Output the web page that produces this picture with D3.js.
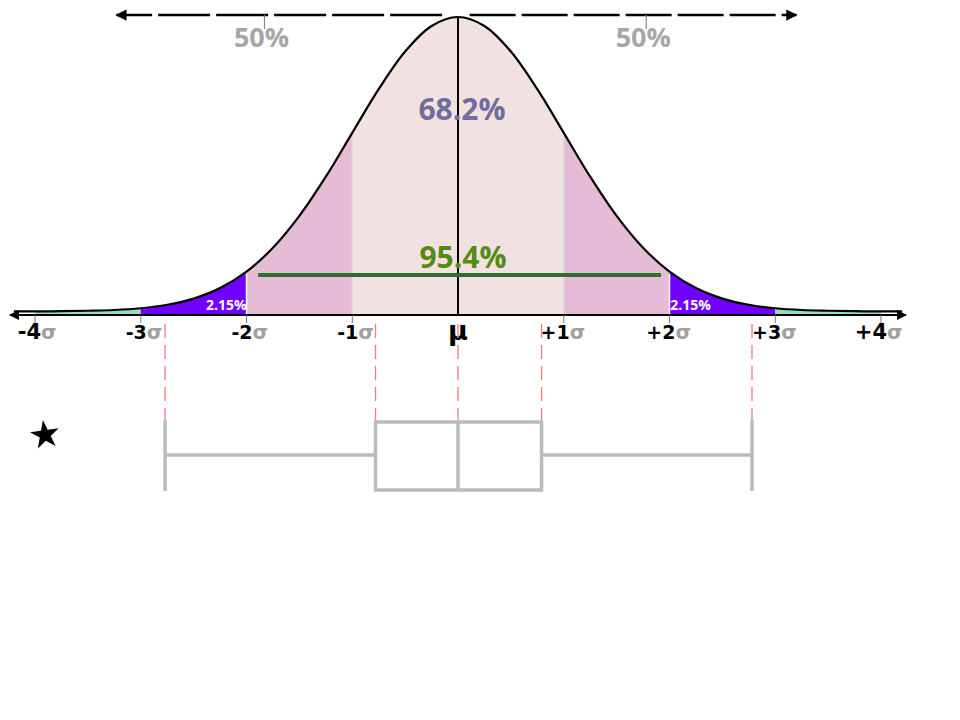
<!DOCTYPE html>
<html>
<head>
<meta charset="utf-8">
<script src="https://cdn.jsdelivr.net/npm/d3@7"></script>
<style>
  body { margin: 0; background: #fff; }
  text { font-family: "Open Sans", "Noto Sans", sans-serif; font-weight: bold; }
  .tick-label { font-family: "DejaVu Sans", sans-serif; }
</style>
</head>
<body>
<div id="chart"></div>
<script>
// density of the bell curve (z in sigma units)
var zValues = [-4.2, -4, -3.75, -3.5, -3.25, -3, -2.75, -2.5, -2.25, -2, -1.75, -1.5, -1.25, -1, -0.75, -0.5, -0.25,
               0, 0.25, 0.5, 0.75, 1, 1.25, 1.5, 1.75, 2, 2.25, 2.5, 2.75, 3, 3.25, 3.5, 3.75, 4, 4.2];
var density = [0.0001, 0.0001, 0.0004, 0.001, 0.002, 0.0044, 0.0091, 0.0175, 0.0317, 0.054, 0.0863, 0.1295, 0.1826, 0.242, 0.3011, 0.3521, 0.3867,
               0.3989, 0.3867, 0.3521, 0.3011, 0.242, 0.1826, 0.1295, 0.0863, 0.054, 0.0317, 0.0175, 0.0091, 0.0044, 0.002, 0.001, 0.0004, 0.0001, 0.0001];

// shaded bands under the curve
var bandFrom  = [-4, -3, -2, -1, 1, 2, 3];
var bandTo    = [-3, -2, -1,  1, 2, 3, 4];
var bandColor = ["#8fe0c4", "#7000ff", "#e6bbd5", "#f2e1e1", "#e6bbd5", "#7000ff", "#8fe0c4"];

// axis ticks
var tickZ      = [-4, -3, -2, -1, 0, 1, 2, 3, 4];
var tickLabels = ["-4", "-3", "-2", "-1", "μ", "+1", "+2", "+3", "+4"];

// percentage labels
var halfLabel = "50%";
var halfTickZ = [-1.83, 1.78];
var innerLabel = "68.2%";
var twoSigmaLabel = "95.4%";
var tailLabel = "2.15%";

// box plot (sigma units)
var boxMin = -2.77, boxQ1 = -0.78, boxMedian = 0, boxQ3 = 0.79, boxMax = 2.78;

var width = 960, height = 720;
var axisY = 315;

var svg = d3.select("#chart").append("svg")
    .attr("width", width)
    .attr("height", height);

var x = d3.scaleLinear().domain([-4, 4]).range([35, 881]);
var y = d3.scaleLinear().domain([0, 0.3989]).range([311.5, 17]);

var points = zValues.map(function(z, i) { return [z, density[i]]; });

var area = d3.area()
    .x(function(d) { return x(d[0]); })
    .y0(axisY)
    .y1(function(d) { return y(d[1]); })
    .curve(d3.curveCatmullRom);

var line = d3.line()
    .x(function(d) { return x(d[0]); })
    .y(function(d) { return y(d[1]); })
    .curve(d3.curveCatmullRom);

var defs = svg.append("defs");

defs.append("marker")
    .attr("id", "arrow")
    .attr("viewBox", "0 0 10 10")
    .attr("refX", 9).attr("refY", 5)
    .attr("markerWidth", 4.5).attr("markerHeight", 4.5)
    .attr("markerUnits", "strokeWidth")
    .attr("orient", "auto-start-reverse")
  .append("path")
    .attr("d", "M0,0 L10,5 L0,10 z")
    .attr("fill", "#000");

// bands, each one the whole area clipped to its sigma range
bandFrom.forEach(function(z0, i) {
  defs.append("clipPath")
      .attr("id", "band" + i)
    .append("rect")
      .attr("x", x(z0))
      .attr("y", 0)
      .attr("width", x(bandTo[i]) - x(z0))
      .attr("height", 320);

  svg.append("path")
      .datum(points)
      .attr("clip-path", "url(#band" + i + ")")
      .attr("d", area)
      .attr("fill", bandColor[i]);
});

// light dividers between bands
svg.append("g").selectAll("line")
  .data([-2, -1, 1, 2])
  .enter().append("line")
    .attr("x1", function(d) { return x(d); })
    .attr("x2", function(d) { return x(d); })
    .attr("y1", axisY)
    .attr("y2", function(d) { return y(density[zValues.indexOf(d)]) + 2; })
    .attr("stroke", function(d) { return Math.abs(d) == 1 ? "#dcdcdc" : "#fff"; })
    .attr("stroke-width", 1.5);

// bell curve
svg.append("path")
    .datum(points)
    .attr("d", line)
    .attr("fill", "none")
    .attr("stroke", "#000")
    .attr("stroke-width", 2.2);

// mean line
svg.append("line")
    .attr("x1", x(0)).attr("x2", x(0))
    .attr("y1", y(0.3989)).attr("y2", axisY)
    .attr("stroke", "#000")
    .attr("stroke-width", 2);

// x axis with arrows both ways
svg.append("line")
    .attr("x1", 10).attr("x2", 906)
    .attr("y1", axisY).attr("y2", axisY)
    .attr("stroke", "#000")
    .attr("stroke-width", 2.2)
    .attr("marker-start", "url(#arrow)")
    .attr("marker-end", "url(#arrow)");

svg.append("g").selectAll("line")
  .data(tickZ)
  .enter().append("line")
    .attr("x1", function(d) { return x(d); })
    .attr("x2", function(d) { return x(d); })
    .attr("y1", axisY).attr("y2", 323)
    .attr("stroke", function(d) { return d == 0 ? "none" : "#777"; })
    .attr("stroke-width", 1);

var labels = svg.append("g").selectAll("g")
  .data(tickZ)
  .enter().append("g");

labels.append("text")
    .attr("class", "tick-label")
    .attr("x", function(d) { return d == 0 ? x(d) : x(d) + 6; })
    .attr("y", function(d) { return d == 0 ? 340 : 339; })
    .attr("text-anchor", function(d) { return d == 0 ? "middle" : "end"; })
    .attr("font-size", function(d) { return d == 0 ? 27 : Math.abs(d) == 4 ? 21 : 19; })
    .attr("fill", "#000")
    .text(function(d, i) { return tickLabels[i]; });

labels.append("text")
    .attr("class", "tick-label")
    .attr("x", function(d) { return x(d) + 6; })
    .attr("y", 339)
    .attr("font-size", 20)
    .attr("fill", "#a0a0a0")
    .text(function(d) { return d == 0 ? "" : "σ"; });

// top dashed half arrows
var topY = 15;
svg.append("line")
    .attr("x1", x(-0.15)).attr("x2", x(-3.23))
    .attr("y1", topY).attr("y2", topY)
    .attr("stroke", "#000").attr("stroke-width", 2.5)
    .attr("stroke-dasharray", "52,6")
    .attr("marker-end", "url(#arrow)");
svg.append("line")
    .attr("x1", x(0.11)).attr("x2", x(3.2))
    .attr("y1", topY).attr("y2", topY)
    .attr("stroke", "#000").attr("stroke-width", 2.5)
    .attr("stroke-dasharray", "46,6")
    .attr("marker-end", "url(#arrow)");

svg.append("g").selectAll("line")
  .data(halfTickZ)
  .enter().append("line")
    .attr("x1", function(d) { return x(d); })
    .attr("x2", function(d) { return x(d); })
    .attr("y1", topY).attr("y2", 29)
    .attr("stroke", "#888")
    .attr("stroke-width", 1.2);

svg.append("g").selectAll("text")
  .data(halfTickZ)
  .enter().append("text")
    .attr("x", function(d) { return x(d) - 3; })
    .attr("y", 47)
    .attr("text-anchor", "middle")
    .attr("font-size", 27)
    .attr("fill", "#a6a6a6")
    .text(halfLabel);

// 68.2% and 95.4%
svg.append("text")
    .attr("x", x(0) + 4).attr("y", 120)
    .attr("text-anchor", "middle")
    .attr("font-size", 30)
    .attr("fill", "#6f6d9e")
    .text(innerLabel);

svg.append("line")
    .attr("x1", x(-1.89)).attr("x2", x(1.92))
    .attr("y1", 275).attr("y2", 275)
    .attr("stroke", "#2e6e2e")
    .attr("stroke-width", 4);

svg.append("text")
    .attr("x", x(0) + 5).attr("y", 268)
    .attr("text-anchor", "middle")
    .attr("font-size", 30)
    .attr("fill", "#558a14")
    .text(twoSigmaLabel);

// tail percentages
svg.append("g").selectAll("text")
  .data([-2.2, 2.2])
  .enter().append("text")
    .attr("x", function(d) { return x(d) + (d < 0 ? 1 : 0); })
    .attr("y", 310)
    .attr("text-anchor", "middle")
    .attr("font-size", 14)
    .attr("fill", "#fff")
    .text(tailLabel);

// red dashed guides down to the box plot
svg.append("g").selectAll("line")
  .data([boxMin, boxQ1, boxMedian, boxQ3, boxMax])
  .enter().append("line")
    .attr("x1", function(d) { return x(d); })
    .attr("x2", function(d) { return x(d); })
    .attr("y1", 324).attr("y2", 420)
    .attr("stroke", "#f07c7c")
    .attr("stroke-width", 1.3)
    .attr("stroke-dasharray", "14,7");

// box plot
var box = svg.append("g")
    .attr("stroke", "#bbbbbb")
    .attr("stroke-width", 3.5)
    .attr("fill", "none");

box.append("line")
    .attr("x1", x(boxMin)).attr("x2", x(boxQ1))
    .attr("y1", 455).attr("y2", 455);
box.append("line")
    .attr("x1", x(boxQ3)).attr("x2", x(boxMax))
    .attr("y1", 455).attr("y2", 455);
box.selectAll(".cap")
  .data([boxMin, boxMax])
  .enter().append("line")
    .attr("class", "cap")
    .attr("x1", function(d) { return x(d); })
    .attr("x2", function(d) { return x(d); })
    .attr("y1", 420).attr("y2", 491);
box.append("rect")
    .attr("x", x(boxQ1)).attr("y", 422)
    .attr("width", x(boxQ3) - x(boxQ1))
    .attr("height", 68)
    .attr("fill", "#fff");
box.append("line")
    .attr("x1", x(boxMedian)).attr("x2", x(boxMedian))
    .attr("y1", 422).attr("y2", 490);

// outlier star
svg.append("path")
    .attr("transform", "translate(45,435) rotate(-8)")
    .attr("d", d3.symbol().type(d3.symbolStar).size(260))
    .attr("fill", "#000");
</script>
</body>
</html>
